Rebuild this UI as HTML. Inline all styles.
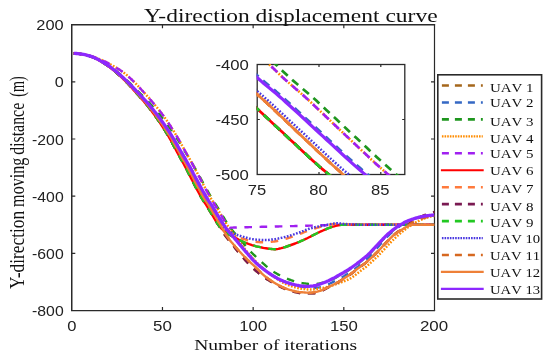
<!DOCTYPE html><html><head><meta charset="utf-8"><title>Y-direction displacement curve</title><style>html,body{margin:0;padding:0;background:#fff;overflow:hidden}svg{display:block}</style></head><body><svg width="550" height="361" viewBox="0 0 550 361">
<rect width="550" height="361" fill="#fff"/>
<defs>
<clipPath id="cm"><rect x="71.8" y="24.7" width="362.70" height="285.80"/></clipPath>
<clipPath id="ci"><rect x="256.59999999999997" y="63.9" width="148.80" height="111.20"/></clipPath>
</defs>
<g stroke="#2a2a2a" fill="none"><path d="M71.75,24 V311.1" stroke-width="1.5"/><path d="M434.5,24 V311.1" stroke-width="1.2"/><path d="M71,24.7 H435.1" stroke-width="1.4"/><path d="M71,310.55 H435.1" stroke-width="1.15"/></g>
<path d="M162.47,310.5v-3.5M162.47,24.7v3.5M253.15,310.5v-3.5M253.15,24.7v3.5M343.82,310.5v-3.5M343.82,24.7v3.5M71.8,81.86h3.5M434.5,81.86h-3.5M71.8,139.02h3.5M434.5,139.02h-3.5M71.8,196.18h3.5M434.5,196.18h-3.5M71.8,253.34h3.5M434.5,253.34h-3.5" stroke="#2a2a2a" stroke-width="1.2" fill="none"/>
<g clip-path="url(#cm)" fill="none" stroke-width="2.4" stroke-linejoin="round">
<path d="M73.6,53.3L75.0,53.4L76.4,53.5L77.8,53.6L79.2,53.8L80.6,54.0L82.0,54.2L83.4,54.4L84.8,54.7L86.2,55.1L87.5,55.5L88.9,55.9L90.3,56.3L91.7,56.8L93.1,57.3L94.5,57.9L95.9,58.6L97.3,59.3L98.7,60.1L100.1,60.9L101.5,61.7L102.9,62.6L104.3,63.5L105.7,64.4L107.1,65.3L108.4,66.3L109.8,67.4L111.2,68.4L112.6,69.5L114.0,70.6L115.4,71.8L116.8,73.0L118.2,74.3L119.6,75.5L121.0,76.9L122.4,78.2L123.8,79.5L125.2,80.9L126.6,82.3L128.0,83.8L129.3,85.3L130.7,86.8L132.1,88.3L133.5,89.9L134.9,91.4L136.3,92.9L137.7,94.5L139.1,96.0L140.5,97.6L141.9,99.2L143.3,100.8L144.7,102.5L146.1,104.1L147.5,105.8L148.9,107.6L150.2,109.3L151.6,111.1L153.0,113.0L154.4,114.9L155.8,116.8L157.2,118.8L158.6,120.9L160.0,122.9L161.4,125.0L162.8,127.2L164.2,129.4L165.6,131.6L167.0,133.9L168.4,136.2L169.8,138.6L171.2,141.0L172.5,143.6L173.9,146.2L175.3,148.8L176.7,151.4L178.1,153.9L179.5,156.4L180.9,159.0L182.3,161.5L183.7,164.0L185.1,166.6L186.5,169.2L187.9,171.9L189.3,174.6L190.7,177.4L192.1,180.1L193.4,182.8L194.8,185.4L196.2,188.1L197.6,190.7L199.0,193.3L200.4,195.8L201.8,198.2L203.2,200.5L204.6,202.6L206.0,204.7L207.4,207.0L208.8,209.3L210.2,211.6L211.6,213.9L213.0,216.2L214.3,218.5L215.7,220.8L217.1,223.0L218.5,225.1L219.9,227.4L221.3,229.7L222.7,232.0L224.1,234.1L225.5,236.0L226.9,237.8L228.3,239.6L229.7,241.3L231.1,243.0L232.5,244.7L233.9,246.4L235.2,248.2L236.6,250.0L238.0,251.7L239.4,253.4L240.8,255.1L242.2,256.7L243.6,258.3L245.0,259.9L246.4,261.5L247.8,263.0L249.2,264.4L250.6,265.8L252.0,267.2L253.4,268.5L254.8,269.8L256.1,271.0L257.5,272.2L258.9,273.4L260.3,274.5L261.7,275.6L263.1,276.6L264.5,277.5L265.9,278.5L267.3,279.4L268.7,280.2L270.1,281.1L271.5,281.9L272.9,282.7L274.3,283.4L275.7,284.2L277.0,284.9L278.4,285.7L279.8,286.4L281.2,287.2L282.6,287.9L284.0,288.5L285.4,289.1L286.8,289.7L288.2,290.2L289.6,290.6L291.0,291.0L292.4,291.4L293.8,291.8L295.2,292.1L296.6,292.4L297.9,292.7L299.3,293.0L300.7,293.2L302.1,293.3L303.5,293.4L304.9,293.4L306.3,293.4L307.7,293.4L309.1,293.4L310.5,293.4L311.9,293.4L313.3,293.3L314.7,293.2L316.1,292.9L317.5,292.5L318.8,292.0L320.2,291.5L321.6,290.9L323.0,290.3L324.4,289.6L325.8,288.7L327.2,287.9L328.6,287.1L330.0,286.4L331.4,285.7L332.8,285.1L334.2,284.4L335.6,283.6L337.0,282.9L338.4,282.1L339.7,281.3L341.1,280.4L342.5,279.6L343.9,278.7L345.3,277.7L346.7,276.8L348.1,275.9L349.5,274.9L350.9,273.9L352.3,272.9L353.7,271.8L355.1,270.8L356.5,269.7L357.9,268.6L359.3,267.6L360.7,266.5L362.0,265.5L363.4,264.6L364.8,263.5L366.2,262.4L367.6,261.2L369.0,259.9L370.4,258.6L371.8,257.3L373.2,256.0L374.6,254.6L376.0,253.2L377.4,251.9L378.8,250.4L380.2,249.0L381.6,247.5L382.9,246.0L384.3,244.6L385.7,243.1L387.1,241.7L388.5,240.2L389.9,238.8L391.3,237.4L392.7,236.0L394.1,234.8L395.5,233.6L396.9,232.6L398.3,231.6L399.7,230.7L401.1,229.8L402.5,228.9L403.8,227.9L405.2,226.8L406.6,225.7L408.0,224.6L409.4,223.4L410.8,222.4L412.2,221.4L413.6,220.5L415.0,219.7L416.4,219.0L417.8,218.2L419.2,217.6L420.6,216.9L422.0,216.3L423.4,215.7L424.7,215.2L426.1,214.6L427.5,214.1L428.9,213.6L430.3,213.1L431.7,212.7L433.1,212.3L434.5,211.9" stroke="#a5671c" stroke-dasharray="7.6 7.6"/>
<path d="M73.6,53.3L75.0,53.4L76.4,53.5L77.8,53.6L79.2,53.8L80.6,53.9L82.0,54.1L83.4,54.4L84.8,54.7L86.2,55.0L87.5,55.3L88.9,55.7L90.3,56.1L91.7,56.6L93.1,57.1L94.5,57.6L95.9,58.3L97.3,59.0L98.7,59.7L100.1,60.5L101.5,61.3L102.9,62.1L104.3,62.9L105.7,63.8L107.1,64.7L108.4,65.6L109.8,66.6L111.2,67.6L112.6,68.6L114.0,69.7L115.4,70.8L116.8,71.9L118.2,73.1L119.6,74.3L121.0,75.5L122.4,76.8L123.8,78.1L125.2,79.4L126.6,80.7L128.0,82.1L129.3,83.4L130.7,84.9L132.1,86.3L133.5,87.8L134.9,89.2L136.3,90.7L137.7,92.2L139.1,93.6L140.5,95.1L141.9,96.6L143.3,98.1L144.7,99.6L146.1,101.1L147.5,102.7L148.9,104.3L150.2,105.9L151.6,107.5L153.0,109.2L154.4,110.9L155.8,112.7L157.2,114.5L158.6,116.3L160.0,118.2L161.4,120.1L162.8,122.0L164.2,124.0L165.6,126.0L167.0,128.1L168.4,130.2L169.8,132.3L171.2,134.5L172.5,136.7L173.9,138.9L175.3,141.3L176.7,143.7L178.1,146.1L179.5,148.6L180.9,151.0L182.3,153.4L183.7,155.8L185.1,158.2L186.5,160.6L187.9,163.0L189.3,165.5L190.7,167.9L192.1,170.5L193.4,173.1L194.8,175.7L196.2,178.4L197.6,181.0L199.0,183.5L200.4,186.1L201.8,188.6L203.2,191.1L204.6,193.6L206.0,196.0L207.4,198.3L208.8,200.5L210.2,202.5L211.6,204.7L213.0,206.9L214.3,209.2L215.7,211.5L217.1,213.7L218.5,216.0L219.9,218.3L221.3,220.6L222.7,222.8L224.1,224.9L225.5,226.9L226.9,228.8L228.3,230.6L229.7,232.2L231.1,233.7L232.5,235.3L233.9,236.9L235.2,238.6L236.6,240.2L238.0,241.9L239.4,243.6L240.8,245.3L242.2,246.9L243.6,248.6L245.0,250.2L246.4,251.9L247.8,253.5L249.2,255.1L250.6,256.7L252.0,258.2L253.4,259.8L254.8,261.2L256.1,262.5L257.5,263.8L258.9,265.0L260.3,266.2L261.7,267.3L263.1,268.4L264.5,269.5L265.9,270.5L267.3,271.5L268.7,272.5L270.1,273.5L271.5,274.5L272.9,275.4L274.3,276.3L275.7,277.1L277.0,277.8L278.4,278.6L279.8,279.3L281.2,279.9L282.6,280.6L284.0,281.2L285.4,281.7L286.8,282.3L288.2,282.8L289.6,283.2L291.0,283.7L292.4,284.2L293.8,284.6L295.2,285.0L296.6,285.4L297.9,285.8L299.3,286.1L300.7,286.5L302.1,286.8L303.5,287.1L304.9,287.3L306.3,287.4L307.7,287.6L309.1,287.8L310.5,287.9L311.9,288.1L313.3,288.1L314.7,288.0L316.1,287.8L317.5,287.6L318.8,287.4L320.2,287.1L321.6,286.7L323.0,286.2L324.4,285.7L325.8,285.2L327.2,284.7L328.6,284.1L330.0,283.5L331.4,282.8L332.8,282.2L334.2,281.4L335.6,280.7L337.0,280.0L338.4,279.2L339.7,278.5L341.1,277.7L342.5,277.0L343.9,276.2L345.3,275.3L346.7,274.5L348.1,273.6L349.5,272.8L350.9,271.8L352.3,270.9L353.7,269.9L355.1,268.8L356.5,267.8L357.9,266.7L359.3,265.6L360.7,264.5L362.0,263.4L363.4,262.2L364.8,261.0L366.2,259.8L367.6,258.5L369.0,257.1L370.4,255.6L371.8,254.0L373.2,252.4L374.6,250.8L376.0,249.2L377.4,247.6L378.8,246.1L380.2,244.5L381.6,243.0L382.9,241.4L384.3,239.9L385.7,238.3L387.1,236.9L388.5,235.5L389.9,234.2L391.3,232.9L392.7,231.7L394.1,230.5L395.5,229.3L396.9,228.2L398.3,227.2L399.7,226.2L401.1,225.3L402.5,224.4L403.8,223.5L405.2,222.7L406.6,222.0L408.0,221.3L409.4,220.7L410.8,220.2L412.2,219.6L413.6,219.1L415.0,218.7L416.4,218.2L417.8,217.8L419.2,217.4L420.6,217.1L422.0,216.7L423.4,216.4L424.7,216.1L426.1,215.9L427.5,215.7L428.9,215.5L430.3,215.3L431.7,215.2L433.1,215.1L434.5,215.0" stroke="#3568c4" stroke-dasharray="7.6 7.6"/>
<path d="M73.6,53.3L75.0,53.4L76.4,53.5L77.8,53.6L79.2,53.8L80.6,54.0L82.0,54.2L83.4,54.4L84.8,54.7L86.2,55.0L87.5,55.4L88.9,55.7L90.3,56.2L91.7,56.6L93.1,57.1L94.5,57.6L95.9,58.3L97.3,58.9L98.7,59.7L100.1,60.4L101.5,61.2L102.9,62.0L104.3,62.8L105.7,63.6L107.1,64.5L108.4,65.4L109.8,66.4L111.2,67.3L112.6,68.4L114.0,69.4L115.4,70.4L116.8,71.5L118.2,72.6L119.6,73.8L121.0,75.0L122.4,76.2L123.8,77.5L125.2,78.7L126.6,80.0L128.0,81.3L129.3,82.7L130.7,84.0L132.1,85.4L133.5,86.8L134.9,88.2L136.3,89.6L137.7,91.0L139.1,92.4L140.5,93.8L141.9,95.2L143.3,96.6L144.7,98.0L146.1,99.5L147.5,100.9L148.9,102.4L150.2,103.9L151.6,105.4L153.0,106.9L154.4,108.5L155.8,110.1L157.2,111.7L158.6,113.4L160.0,115.1L161.4,116.8L162.8,118.6L164.2,120.4L165.6,122.3L167.0,124.1L168.4,126.0L169.8,127.9L171.2,129.9L172.5,131.8L173.9,133.9L175.3,135.9L176.7,138.0L178.1,140.2L179.5,142.4L180.9,144.7L182.3,147.0L183.7,149.3L185.1,151.6L186.5,153.9L187.9,156.2L189.3,158.5L190.7,160.8L192.1,163.1L193.4,165.5L194.8,167.9L196.2,170.3L197.6,172.8L199.0,175.4L200.4,177.9L201.8,180.5L203.2,183.0L204.6,185.5L206.0,188.1L207.4,190.6L208.8,193.1L210.2,195.5L211.6,197.9L213.0,200.2L214.3,202.3L215.7,204.4L217.1,206.6L218.5,208.9L219.9,211.2L221.3,213.5L222.7,215.8L224.1,218.2L225.5,220.5L226.9,222.7L228.3,224.8L229.7,226.8L231.1,228.8L232.5,230.6L233.9,232.2L235.2,233.8L236.6,235.3L238.0,236.9L239.4,238.4L240.8,240.1L242.2,241.7L243.6,243.5L245.0,245.2L246.4,246.9L247.8,248.5L249.2,250.1L250.6,251.6L252.0,253.0L253.4,254.4L254.8,255.7L256.1,257.0L257.5,258.3L258.9,259.6L260.3,260.8L261.7,262.1L263.1,263.4L264.5,264.6L265.9,265.9L267.3,267.1L268.7,268.3L270.1,269.4L271.5,270.4L272.9,271.3L274.3,272.2L275.7,273.0L277.0,273.8L278.4,274.6L279.8,275.3L281.2,276.0L282.6,276.6L284.0,277.3L285.4,277.9L286.8,278.5L288.2,279.1L289.6,279.6L291.0,280.2L292.4,280.7L293.8,281.2L295.2,281.7L296.6,282.1L297.9,282.4L299.3,282.7L300.7,282.9L302.1,283.1L303.5,283.3L304.9,283.4L306.3,283.6L307.7,283.8L309.1,283.9L310.5,284.0L311.9,284.0L313.3,284.1L314.7,284.0L316.1,283.9L317.5,283.8L318.8,283.6L320.2,283.3L321.6,283.0L323.0,282.6L324.4,282.2L325.8,281.8L327.2,281.4L328.6,281.0L330.0,280.5L331.4,279.8L332.8,279.1L334.2,278.4L335.6,277.6L337.0,276.9L338.4,276.1L339.7,275.4L341.1,274.6L342.5,273.8L343.9,273.0L345.3,272.1L346.7,271.3L348.1,270.4L349.5,269.5L350.9,268.5L352.3,267.6L353.7,266.6L355.1,265.6L356.5,264.6L357.9,263.5L359.3,262.4L360.7,261.4L362.0,260.3L363.4,259.2L364.8,258.1L366.2,257.0L367.6,255.8L369.0,254.4L370.4,253.0L371.8,251.5L373.2,250.0L374.6,248.5L376.0,246.9L377.4,245.4L378.8,244.0L380.2,242.5L381.6,241.0L382.9,239.6L384.3,238.2L385.7,236.8L387.1,235.4L388.5,234.2L389.9,233.0L391.3,231.8L392.7,230.6L394.1,229.5L395.5,228.5L396.9,227.5L398.3,226.5L399.7,225.6L401.1,224.8L402.5,223.9L403.8,223.1L405.2,222.4L406.6,221.7L408.0,221.1L409.4,220.5L410.8,219.9L412.2,219.4L413.6,218.9L415.0,218.5L416.4,218.1L417.8,217.7L419.2,217.4L420.6,217.0L422.0,216.7L423.4,216.4L424.7,216.2L426.1,216.0L427.5,215.8L428.9,215.6L430.3,215.5L431.7,215.3L433.1,215.3L434.5,215.2" stroke="#1e961e" stroke-dasharray="7.6 7.6"/>
<path d="M73.6,53.3L75.0,53.4L76.4,53.5L77.8,53.6L79.2,53.8L80.6,53.9L82.0,54.1L83.4,54.4L84.8,54.6L86.2,54.9L87.5,55.3L88.9,55.6L90.3,56.0L91.7,56.4L93.1,56.8L94.5,57.3L95.9,57.8L97.3,58.3L98.7,58.8L100.1,59.4L101.5,60.0L102.9,60.6L104.3,61.3L105.7,61.9L107.1,62.6L108.4,63.3L109.8,64.1L111.2,64.8L112.6,65.6L114.0,66.4L115.4,67.2L116.8,68.1L118.2,68.9L119.6,69.8L121.0,70.7L122.4,71.7L123.8,72.7L125.2,73.8L126.6,74.9L128.0,76.1L129.3,77.4L130.7,78.7L132.1,80.0L133.5,81.3L134.9,82.7L136.3,84.2L137.7,85.7L139.1,87.2L140.5,88.7L141.9,90.2L143.3,91.7L144.7,93.2L146.1,94.8L147.5,96.3L148.9,97.9L150.2,99.5L151.6,101.1L153.0,102.7L154.4,104.4L155.8,106.1L157.2,107.8L158.6,109.5L160.0,111.3L161.4,113.1L162.8,115.0L164.2,116.9L165.6,118.9L167.0,120.9L168.4,123.0L169.8,125.0L171.2,127.2L172.5,129.3L173.9,131.5L175.3,133.8L176.7,136.1L178.1,138.4L179.5,140.8L180.9,143.3L182.3,145.9L183.7,148.4L185.1,151.0L186.5,153.5L187.9,155.9L189.3,158.4L190.7,160.9L192.1,163.4L193.4,165.9L194.8,168.5L196.2,171.1L197.6,173.7L199.0,176.4L200.4,179.1L201.8,181.8L203.2,184.4L204.6,187.0L206.0,189.6L207.4,192.2L208.8,194.7L210.2,197.2L211.6,199.5L213.0,201.7L214.3,203.8L215.7,206.1L217.1,208.4L218.5,210.8L219.9,213.1L221.3,215.4L222.7,217.8L224.1,220.1L225.5,222.4L226.9,224.5L228.3,226.6L229.7,228.5L231.1,230.4L232.5,232.3L233.9,234.3L235.2,236.2L236.6,238.2L238.0,240.1L239.4,242.0L240.8,243.8L242.2,245.6L243.6,247.4L245.0,249.2L246.4,250.9L247.8,252.7L249.2,254.3L250.6,255.9L252.0,257.5L253.4,259.0L254.8,260.4L256.1,261.9L257.5,263.3L258.9,264.6L260.3,265.9L261.7,267.2L263.1,268.4L264.5,269.6L265.9,270.8L267.3,272.0L268.7,273.1L270.1,274.2L271.5,275.2L272.9,276.2L274.3,277.2L275.7,278.1L277.0,279.0L278.4,279.9L279.8,280.8L281.2,281.6L282.6,282.4L284.0,283.2L285.4,283.9L286.8,284.5L288.2,285.1L289.6,285.6L291.0,286.1L292.4,286.5L293.8,287.0L295.2,287.3L296.6,287.7L297.9,288.0L299.3,288.2L300.7,288.5L302.1,288.7L303.5,288.9L304.9,289.1L306.3,289.3L307.7,289.4L309.1,289.5L310.5,289.5L311.9,289.5L313.3,289.4L314.7,289.3L316.1,289.1L317.5,288.9L318.8,288.7L320.2,288.5L321.6,288.3L323.0,288.0L324.4,287.7L325.8,287.4L327.2,287.0L328.6,286.6L330.0,286.1L331.4,285.6L332.8,285.2L334.2,284.7L335.6,284.2L337.0,283.8L338.4,283.3L339.7,282.9L341.1,282.4L342.5,281.9L343.9,281.4L345.3,280.8L346.7,280.3L348.1,279.6L349.5,278.9L350.9,278.1L352.3,277.2L353.7,276.2L355.1,275.2L356.5,274.0L357.9,272.9L359.3,271.9L360.7,270.8L362.0,269.8L363.4,268.8L364.8,267.8L366.2,266.7L367.6,265.5L369.0,264.3L370.4,263.0L371.8,261.8L373.2,260.5L374.6,259.1L376.0,257.8L377.4,256.5L378.8,255.1L380.2,253.6L381.6,252.2L382.9,250.7L384.3,249.3L385.7,247.8L387.1,246.2L388.5,244.7L389.9,243.2L391.3,241.7L392.7,240.3L394.1,238.9L395.5,237.6L396.9,236.3L398.3,235.1L399.7,233.9L401.1,232.7L402.5,231.6L403.8,230.5L405.2,229.4L406.6,228.3L408.0,227.3L409.4,226.3L410.8,225.4L412.2,224.5L413.6,223.7L415.0,222.9L416.4,222.1L417.8,221.4L419.2,220.7L420.6,220.0L422.0,219.4L423.4,218.7L424.7,218.2L426.1,217.7L427.5,217.3L428.9,216.9L430.3,216.6L431.7,216.3L433.1,216.1L434.5,215.9" stroke="#ff8c00" stroke-dasharray="1.7 1.5" stroke-width="2.5"/>
<path d="M73.6,53.3L75.0,53.4L76.4,53.5L77.8,53.6L79.2,53.8L80.6,53.9L82.0,54.1L83.4,54.4L84.8,54.6L86.2,54.9L87.5,55.3L88.9,55.6L90.3,56.0L91.7,56.4L93.1,56.8L94.5,57.3L95.9,57.8L97.3,58.3L98.7,58.8L100.1,59.4L101.5,60.0L102.9,60.6L104.3,61.3L105.7,61.9L107.1,62.6L108.4,63.3L109.8,64.1L111.2,64.8L112.6,65.6L114.0,66.4L115.4,67.2L116.8,68.1L118.2,68.9L119.6,69.8L121.0,70.7L122.4,71.7L123.8,72.7L125.2,73.8L126.6,74.9L128.0,76.1L129.3,77.4L130.7,78.7L132.1,80.0L133.5,81.3L134.9,82.7L136.3,84.2L137.7,85.7L139.1,87.2L140.5,88.7L141.9,90.2L143.3,91.7L144.7,93.2L146.1,94.8L147.5,96.3L148.9,97.9L150.2,99.5L151.6,101.1L153.0,102.7L154.4,104.4L155.8,106.1L157.2,107.8L158.6,109.5L160.0,111.3L161.4,113.1L162.8,115.0L164.2,116.9L165.6,118.9L167.0,120.9L168.4,123.0L169.8,125.0L171.2,127.2L172.5,129.3L173.9,131.5L175.3,133.8L176.7,136.1L178.1,138.4L179.5,140.8L180.9,143.3L182.3,145.9L183.7,148.4L185.1,151.0L186.5,153.5L187.9,155.9L189.3,158.4L190.7,160.9L192.1,163.4L193.4,165.9L194.8,168.5L196.2,171.1L197.6,173.7L199.0,176.4L200.4,179.1L201.8,181.8L203.2,184.4L204.6,187.0L206.0,189.6L207.4,192.2L208.8,194.7L210.2,197.2L211.6,199.5L213.0,201.7L214.3,203.8L215.7,206.1L217.1,208.4L218.5,210.8L219.9,213.1L221.3,215.4L222.7,217.8L224.1,220.1L225.5,222.4L226.9,224.5L228.3,226.6L229.7,227.9L231.1,227.6L232.5,227.6L233.9,227.5L235.2,227.5L236.6,227.5L238.0,227.4L239.4,227.4L240.8,227.3L242.2,227.3L243.6,227.3L245.0,227.2L246.4,227.2L247.8,227.2L249.2,227.1L250.6,227.1L252.0,227.1L253.4,227.0L254.8,227.0L256.1,227.0L257.5,226.9L258.9,226.9L260.3,226.9L261.7,226.8L263.1,226.8L264.5,226.8L265.9,226.7L267.3,226.7L268.7,226.7L270.1,226.7L271.5,226.6L272.9,226.6L274.3,226.6L275.7,226.5L277.0,226.5L278.4,226.5L279.8,226.4L281.2,226.4L282.6,226.4L284.0,226.3L285.4,226.3L286.8,226.3L288.2,226.2L289.6,226.2L291.0,226.1L292.4,226.1L293.8,226.1L295.2,226.0L296.6,226.0L297.9,226.0L299.3,225.9L300.7,225.9L302.1,225.8L303.5,225.8L304.9,225.8L306.3,225.7L307.7,225.7L309.1,225.6L310.5,225.6L311.9,225.6L313.3,225.5L314.7,225.5L316.1,225.4L317.5,225.4L318.8,225.4L320.2,225.3L321.6,225.3L323.0,225.3L324.4,225.2L325.8,225.2L327.2,225.1L328.6,225.1L330.0,225.1L331.4,225.0L332.8,225.0L334.2,224.9L335.6,224.9L337.0,224.9L338.4,224.8L339.7,224.8L341.1,224.8L342.5,224.8L343.9,224.8L345.3,224.8L346.7,224.8L348.1,224.8L349.5,224.8L350.9,224.8L352.3,224.8L353.7,224.8L355.1,224.8L356.5,224.8L357.9,224.8L359.3,224.8L360.7,224.8L362.0,224.8L363.4,224.8L364.8,224.8L366.2,224.8L367.6,224.8L369.0,224.8L370.4,224.8L371.8,224.8L373.2,224.8L374.6,224.8L376.0,224.8L377.4,224.8L378.8,224.8L380.2,224.8L381.6,224.8L382.9,224.8L384.3,224.8L385.7,224.8L387.1,224.8L388.5,224.8L389.9,224.8L391.3,224.8L392.7,224.8L394.1,224.8L395.5,224.8L396.9,224.8L398.3,224.8L399.7,224.8L401.1,224.8L402.5,224.8L403.8,224.8L405.2,224.8L406.6,224.8L408.0,224.8L409.4,224.8L410.8,224.8L412.2,224.8L413.6,224.8L415.0,224.8L416.4,224.8L417.8,224.8L419.2,224.8L420.6,224.8L422.0,224.8L423.4,224.8L424.7,224.8L426.1,224.8L427.5,224.8L428.9,224.8L430.3,224.8L431.7,224.8L433.1,224.8L434.5,224.8" stroke="#a020f0" stroke-dasharray="7.6 7.6"/>
<path d="M73.6,53.3L75.0,53.4L76.4,53.5L77.8,53.6L79.2,53.8L80.6,54.0L82.0,54.2L83.4,54.4L84.8,54.7L86.2,55.1L87.5,55.5L88.9,55.9L90.3,56.3L91.7,56.8L93.1,57.3L94.5,57.9L95.9,58.6L97.3,59.3L98.7,60.1L100.1,60.9L101.5,61.7L102.9,62.6L104.3,63.5L105.7,64.4L107.1,65.3L108.4,66.3L109.8,67.4L111.2,68.4L112.6,69.5L114.0,70.6L115.4,71.8L116.8,73.0L118.2,74.3L119.6,75.5L121.0,76.9L122.4,78.2L123.8,79.5L125.2,80.9L126.6,82.3L128.0,83.8L129.3,85.3L130.7,86.8L132.1,88.3L133.5,89.9L134.9,91.4L136.3,92.9L137.7,94.5L139.1,96.0L140.5,97.6L141.9,99.2L143.3,100.8L144.7,102.5L146.1,104.1L147.5,105.8L148.9,107.6L150.2,109.3L151.6,111.1L153.0,113.0L154.4,114.9L155.8,116.8L157.2,118.8L158.6,120.9L160.0,122.9L161.4,125.0L162.8,127.2L164.2,129.4L165.6,131.6L167.0,133.9L168.4,136.2L169.8,138.6L171.2,141.0L172.5,143.6L173.9,146.2L175.3,148.8L176.7,151.4L178.1,153.9L179.5,156.4L180.9,159.0L182.3,161.5L183.7,164.0L185.1,166.6L186.5,169.2L187.9,171.9L189.3,174.6L190.7,177.4L192.1,180.1L193.4,182.8L194.8,185.4L196.2,188.1L197.6,190.7L199.0,193.3L200.4,195.8L201.8,198.2L203.2,200.5L204.6,202.6L206.0,204.7L207.4,207.0L208.8,209.3L210.2,211.6L211.6,213.9L213.0,216.2L214.3,218.5L215.7,220.8L217.1,223.0L218.5,225.0L219.9,226.7L221.3,228.3L222.7,229.7L224.1,231.0L225.5,232.1L226.9,233.1L228.3,234.1L229.7,234.9L231.1,235.7L232.5,236.5L233.9,237.2L235.2,237.9L236.6,238.6L238.0,239.3L239.4,240.0L240.8,240.7L242.2,241.4L243.6,242.0L245.0,242.6L246.4,243.1L247.8,243.7L249.2,244.2L250.6,244.6L252.0,245.1L253.4,245.5L254.8,245.9L256.1,246.3L257.5,246.6L258.9,246.9L260.3,247.2L261.7,247.5L263.1,247.8L264.5,248.1L265.9,248.3L267.3,248.5L268.7,248.7L270.1,248.9L271.5,249.0L272.9,249.1L274.3,249.2L275.7,249.2L277.0,249.1L278.4,248.9L279.8,248.5L281.2,248.2L282.6,247.8L284.0,247.4L285.4,247.0L286.8,246.5L288.2,246.0L289.6,245.5L291.0,245.0L292.4,244.5L293.8,244.0L295.2,243.5L296.6,242.9L297.9,242.3L299.3,241.8L300.7,241.2L302.1,240.6L303.5,240.0L304.9,239.3L306.3,238.7L307.7,238.0L309.1,237.3L310.5,236.6L311.9,235.8L313.3,235.1L314.7,234.4L316.1,233.7L317.5,233.0L318.8,232.4L320.2,231.7L321.6,231.1L323.0,230.5L324.4,229.9L325.8,229.3L327.2,228.7L328.6,228.1L330.0,227.6L331.4,227.1L332.8,226.7L334.2,226.3L335.6,225.9L337.0,225.6L338.4,225.3L339.7,225.0L341.1,224.9L342.5,224.9L343.9,224.8L345.3,224.8L346.7,224.8L348.1,224.8L349.5,224.8L350.9,224.8L352.3,224.8L353.7,224.8L355.1,224.8L356.5,224.8L357.9,224.8L359.3,224.8L360.7,224.8L362.0,224.8L363.4,224.8L364.8,224.8L366.2,224.8L367.6,224.8L369.0,224.8L370.4,224.8L371.8,224.8L373.2,224.8L374.6,224.8L376.0,224.8L377.4,224.8L378.8,224.8L380.2,224.8L381.6,224.8L382.9,224.8L384.3,224.8L385.7,224.8L387.1,224.8L388.5,224.8L389.9,224.8L391.3,224.8L392.7,224.8L394.1,224.8L395.5,224.8L396.9,224.8L398.3,224.8L399.7,224.8L401.1,224.8L402.5,224.8L403.8,224.8L405.2,224.8L406.6,224.8L408.0,224.8L409.4,224.8L410.8,224.8L412.2,224.8L413.6,224.8L415.0,224.8L416.4,224.8L417.8,224.8L419.2,224.8L420.6,224.8L422.0,224.8L423.4,224.8L424.7,224.8L426.1,224.8L427.5,224.8L428.9,224.8L430.3,224.8L431.7,224.8L433.1,224.8L434.5,224.8" stroke="#ff0000"/>
<path d="M73.6,53.3L75.0,53.4L76.4,53.5L77.8,53.6L79.2,53.8L80.6,54.0L82.0,54.2L83.4,54.4L84.8,54.7L86.2,55.0L87.5,55.4L88.9,55.8L90.3,56.2L91.7,56.7L93.1,57.2L94.5,57.8L95.9,58.5L97.3,59.2L98.7,59.9L100.1,60.7L101.5,61.5L102.9,62.4L104.3,63.2L105.7,64.1L107.1,65.0L108.4,66.0L109.8,67.0L111.2,68.1L112.6,69.1L114.0,70.2L115.4,71.3L116.8,72.5L118.2,73.7L119.6,75.0L121.0,76.3L122.4,77.6L123.8,78.9L125.2,80.2L126.6,81.6L128.0,83.0L129.3,84.5L130.7,86.0L132.1,87.4L133.5,89.0L134.9,90.5L136.3,92.0L137.7,93.5L139.1,95.0L140.5,96.6L141.9,98.1L143.3,99.7L144.7,101.3L146.1,102.9L147.5,104.5L148.9,106.2L150.2,107.9L151.6,109.7L153.0,111.4L154.4,113.2L155.8,115.1L157.2,117.0L158.6,119.0L160.0,121.0L161.4,123.0L162.8,125.0L164.2,127.1L165.6,129.3L167.0,131.4L168.4,133.6L169.8,135.9L171.2,138.2L172.5,140.6L173.9,143.0L175.3,145.5L176.7,148.0L178.1,150.5L179.5,153.0L180.9,155.5L182.3,157.9L183.7,160.4L185.1,162.9L186.5,165.4L187.9,167.9L189.3,170.5L190.7,173.1L192.1,175.8L193.4,178.5L194.8,181.2L196.2,183.8L197.6,186.4L199.0,189.0L200.4,191.6L201.8,194.2L203.2,196.6L204.6,199.0L206.0,201.2L207.4,203.3L208.8,205.5L210.2,207.8L211.6,210.1L213.0,212.5L214.3,214.8L215.7,217.1L217.1,219.5L218.5,221.8L219.9,223.9L221.3,225.8L222.7,227.5L224.1,229.1L225.5,230.4L226.9,231.5L228.3,232.5L229.7,233.3L231.1,234.1L232.5,234.8L233.9,235.5L235.2,236.1L236.6,236.7L238.0,237.2L239.4,237.7L240.8,238.2L242.2,238.6L243.6,239.0L245.0,239.4L246.4,239.9L247.8,240.3L249.2,240.7L250.6,241.0L252.0,241.3L253.4,241.6L254.8,241.7L256.1,241.8L257.5,242.0L258.9,242.1L260.3,242.2L261.7,242.3L263.1,242.3L264.5,242.3L265.9,242.3L267.3,242.3L268.7,242.1L270.1,242.0L271.5,241.8L272.9,241.6L274.3,241.5L275.7,241.3L277.0,241.0L278.4,240.7L279.8,240.4L281.2,240.0L282.6,239.7L284.0,239.3L285.4,238.9L286.8,238.5L288.2,238.1L289.6,237.6L291.0,237.1L292.4,236.7L293.8,236.2L295.2,235.7L296.6,235.2L297.9,234.7L299.3,234.2L300.7,233.6L302.1,233.1L303.5,232.5L304.9,231.9L306.3,231.4L307.7,230.8L309.1,230.3L310.5,229.8L311.9,229.4L313.3,228.9L314.7,228.5L316.1,228.1L317.5,227.7L318.8,227.3L320.2,226.9L321.6,226.5L323.0,226.2L324.4,225.9L325.8,225.6L327.2,225.3L328.6,225.0L330.0,224.7L331.4,224.4L332.8,224.2L334.2,224.0L335.6,223.9L337.0,223.9L338.4,223.9L339.7,224.0L341.1,224.1L342.5,224.2L343.9,224.3L345.3,224.4L346.7,224.4L348.1,224.5L349.5,224.5L350.9,224.6L352.3,224.6L353.7,224.6L355.1,224.7L356.5,224.7L357.9,224.7L359.3,224.7L360.7,224.8L362.0,224.8L363.4,224.8L364.8,224.8L366.2,224.8L367.6,224.8L369.0,224.8L370.4,224.8L371.8,224.8L373.2,224.8L374.6,224.8L376.0,224.8L377.4,224.8L378.8,224.8L380.2,224.8L381.6,224.8L382.9,224.8L384.3,224.8L385.7,224.8L387.1,224.8L388.5,224.8L389.9,224.8L391.3,224.8L392.7,224.8L394.1,224.8L395.5,224.8L396.9,224.8L398.3,224.8L399.7,224.8L401.1,224.8L402.5,224.8L403.8,224.8L405.2,224.8L406.6,224.8L408.0,224.8L409.4,224.8L410.8,224.8L412.2,224.8L413.6,224.8L415.0,224.8L416.4,224.8L417.8,224.8L419.2,224.8L420.6,224.8L422.0,224.8L423.4,224.8L424.7,224.8L426.1,224.8L427.5,224.8L428.9,224.8L430.3,224.8L431.7,224.8L433.1,224.8L434.5,224.8" stroke="#ff7a3c" stroke-dasharray="7.6 7.6"/>
<path d="M73.6,53.3L75.0,53.4L76.4,53.5L77.8,53.6L79.2,53.8L80.6,54.0L82.0,54.2L83.4,54.4L84.8,54.7L86.2,55.1L87.5,55.5L88.9,55.9L90.3,56.3L91.7,56.8L93.1,57.3L94.5,57.9L95.9,58.6L97.3,59.3L98.7,60.1L100.1,60.9L101.5,61.7L102.9,62.6L104.3,63.5L105.7,64.4L107.1,65.3L108.4,66.3L109.8,67.4L111.2,68.4L112.6,69.5L114.0,70.6L115.4,71.8L116.8,73.0L118.2,74.3L119.6,75.5L121.0,76.9L122.4,78.2L123.8,79.5L125.2,80.9L126.6,82.3L128.0,83.8L129.3,85.3L130.7,86.8L132.1,88.3L133.5,89.9L134.9,91.4L136.3,92.9L137.7,94.5L139.1,96.0L140.5,97.6L141.9,99.2L143.3,100.8L144.7,102.5L146.1,104.1L147.5,105.8L148.9,107.6L150.2,109.3L151.6,111.1L153.0,113.0L154.4,114.9L155.8,116.8L157.2,118.8L158.6,120.9L160.0,122.9L161.4,125.0L162.8,127.2L164.2,129.4L165.6,131.6L167.0,133.9L168.4,136.2L169.8,138.6L171.2,141.0L172.5,143.6L173.9,146.2L175.3,148.8L176.7,151.4L178.1,153.9L179.5,156.4L180.9,159.0L182.3,161.5L183.7,164.0L185.1,166.6L186.5,169.2L187.9,171.9L189.3,174.6L190.7,177.4L192.1,180.1L193.4,182.8L194.8,185.4L196.2,188.1L197.6,190.7L199.0,193.3L200.4,195.8L201.8,198.2L203.2,200.5L204.6,202.6L206.0,204.7L207.4,207.0L208.8,209.3L210.2,211.6L211.6,213.9L213.0,216.2L214.3,218.5L215.7,220.8L217.1,223.0L218.5,225.1L219.9,227.4L221.3,229.7L222.7,232.0L224.1,234.1L225.5,236.0L226.9,237.8L228.3,239.6L229.7,241.3L231.1,243.0L232.5,244.7L233.9,246.4L235.2,248.2L236.6,250.0L238.0,251.7L239.4,253.4L240.8,255.1L242.2,256.7L243.6,258.3L245.0,259.9L246.4,261.5L247.8,263.0L249.2,264.4L250.6,265.8L252.0,267.2L253.4,268.5L254.8,269.8L256.1,271.0L257.5,272.2L258.9,273.4L260.3,274.5L261.7,275.6L263.1,276.6L264.5,277.5L265.9,278.5L267.3,279.4L268.7,280.2L270.1,281.1L271.5,281.9L272.9,282.7L274.3,283.4L275.7,284.2L277.0,284.9L278.4,285.7L279.8,286.4L281.2,287.2L282.6,287.9L284.0,288.5L285.4,289.1L286.8,289.7L288.2,290.2L289.6,290.6L291.0,291.0L292.4,291.4L293.8,291.8L295.2,292.1L296.6,292.4L297.9,292.7L299.3,293.0L300.7,293.2L302.1,293.3L303.5,293.4L304.9,293.4L306.3,293.4L307.7,293.4L309.1,293.4L310.5,293.4L311.9,293.4L313.3,293.3L314.7,293.2L316.1,292.9L317.5,292.5L318.8,292.0L320.2,291.5L321.6,290.9L323.0,290.3L324.4,289.6L325.8,288.7L327.2,287.9L328.6,287.1L330.0,286.4L331.4,285.7L332.8,285.1L334.2,284.4L335.6,283.6L337.0,282.9L338.4,282.1L339.7,281.3L341.1,280.4L342.5,279.6L343.9,278.7L345.3,277.7L346.7,276.8L348.1,275.9L349.5,274.9L350.9,273.9L352.3,272.9L353.7,271.8L355.1,270.8L356.5,269.7L357.9,268.6L359.3,267.6L360.7,266.5L362.0,265.5L363.4,264.6L364.8,263.5L366.2,262.4L367.6,261.2L369.0,259.9L370.4,258.6L371.8,257.3L373.2,256.0L374.6,254.6L376.0,253.2L377.4,251.9L378.8,250.4L380.2,249.0L381.6,247.5L382.9,246.0L384.3,244.6L385.7,243.1L387.1,241.7L388.5,240.2L389.9,238.8L391.3,237.4L392.7,236.0L394.1,234.8L395.5,233.6L396.9,232.6L398.3,231.6L399.7,230.7L401.1,229.8L402.5,228.9L403.8,227.9L405.2,226.8L406.6,225.7L408.0,224.6L409.4,223.4L410.8,222.4L412.2,221.4L413.6,220.5L415.0,219.7L416.4,219.0L417.8,218.2L419.2,217.6L420.6,216.9L422.0,216.3L423.4,215.7L424.7,215.2L426.1,214.6L427.5,214.1L428.9,213.6L430.3,213.1L431.7,212.7L433.1,212.3L434.5,211.9" stroke="#7a1a52" stroke-dasharray="7.6 7.6"/>
<path d="M73.6,53.3L75.0,53.4L76.4,53.5L77.8,53.6L79.2,53.8L80.6,54.0L82.0,54.2L83.4,54.4L84.8,54.7L86.2,55.1L87.5,55.5L88.9,55.9L90.3,56.3L91.7,56.8L93.1,57.3L94.5,57.9L95.9,58.6L97.3,59.3L98.7,60.1L100.1,60.9L101.5,61.7L102.9,62.6L104.3,63.5L105.7,64.4L107.1,65.3L108.4,66.3L109.8,67.4L111.2,68.4L112.6,69.5L114.0,70.6L115.4,71.8L116.8,73.0L118.2,74.3L119.6,75.5L121.0,76.9L122.4,78.2L123.8,79.5L125.2,80.9L126.6,82.3L128.0,83.8L129.3,85.3L130.7,86.8L132.1,88.3L133.5,89.9L134.9,91.4L136.3,92.9L137.7,94.5L139.1,96.0L140.5,97.6L141.9,99.2L143.3,100.8L144.7,102.5L146.1,104.1L147.5,105.8L148.9,107.6L150.2,109.3L151.6,111.1L153.0,113.0L154.4,114.9L155.8,116.8L157.2,118.8L158.6,120.9L160.0,122.9L161.4,125.0L162.8,127.2L164.2,129.4L165.6,131.6L167.0,133.9L168.4,136.2L169.8,138.6L171.2,141.0L172.5,143.6L173.9,146.2L175.3,148.8L176.7,151.4L178.1,153.9L179.5,156.4L180.9,159.0L182.3,161.5L183.7,164.0L185.1,166.6L186.5,169.2L187.9,171.9L189.3,174.6L190.7,177.4L192.1,180.1L193.4,182.8L194.8,185.4L196.2,188.1L197.6,190.7L199.0,193.3L200.4,195.8L201.8,198.2L203.2,200.5L204.6,202.6L206.0,204.7L207.4,207.0L208.8,209.3L210.2,211.6L211.6,213.9L213.0,216.2L214.3,218.5L215.7,220.8L217.1,223.0L218.5,225.0L219.9,226.7L221.3,228.3L222.7,229.7L224.1,231.0L225.5,232.1L226.9,233.1L228.3,234.1L229.7,234.9L231.1,235.7L232.5,236.5L233.9,237.2L235.2,237.9L236.6,238.6L238.0,239.3L239.4,240.0L240.8,240.7L242.2,241.4L243.6,242.0L245.0,242.6L246.4,243.1L247.8,243.7L249.2,244.2L250.6,244.6L252.0,245.1L253.4,245.5L254.8,245.9L256.1,246.3L257.5,246.6L258.9,246.9L260.3,247.2L261.7,247.5L263.1,247.8L264.5,248.1L265.9,248.3L267.3,248.5L268.7,248.7L270.1,248.9L271.5,249.0L272.9,249.1L274.3,249.2L275.7,249.2L277.0,249.1L278.4,248.9L279.8,248.5L281.2,248.2L282.6,247.8L284.0,247.4L285.4,247.0L286.8,246.5L288.2,246.0L289.6,245.5L291.0,245.0L292.4,244.5L293.8,244.0L295.2,243.5L296.6,242.9L297.9,242.3L299.3,241.8L300.7,241.2L302.1,240.6L303.5,240.0L304.9,239.3L306.3,238.7L307.7,238.0L309.1,237.3L310.5,236.6L311.9,235.8L313.3,235.1L314.7,234.4L316.1,233.7L317.5,233.0L318.8,232.4L320.2,231.7L321.6,231.1L323.0,230.5L324.4,229.9L325.8,229.3L327.2,228.7L328.6,228.1L330.0,227.6L331.4,227.1L332.8,226.7L334.2,226.3L335.6,225.9L337.0,225.6L338.4,225.3L339.7,225.0L341.1,224.9L342.5,224.9L343.9,224.8L345.3,224.8L346.7,224.8L348.1,224.8L349.5,224.8L350.9,224.8L352.3,224.8L353.7,224.8L355.1,224.8L356.5,224.8L357.9,224.8L359.3,224.8L360.7,224.8L362.0,224.8L363.4,224.8L364.8,224.8L366.2,224.8L367.6,224.8L369.0,224.8L370.4,224.8L371.8,224.8L373.2,224.8L374.6,224.8L376.0,224.8L377.4,224.8L378.8,224.8L380.2,224.8L381.6,224.8L382.9,224.8L384.3,224.8L385.7,224.8L387.1,224.8L388.5,224.8L389.9,224.8L391.3,224.8L392.7,224.8L394.1,224.8L395.5,224.8L396.9,224.8L398.3,224.8L399.7,224.8L401.1,224.8L402.5,224.8L403.8,224.8L405.2,224.8L406.6,224.8L408.0,224.8L409.4,224.8L410.8,224.8L412.2,224.8L413.6,224.8L415.0,224.8L416.4,224.8L417.8,224.8L419.2,224.8L420.6,224.8L422.0,224.8L423.4,224.8L424.7,224.8L426.1,224.8L427.5,224.8L428.9,224.8L430.3,224.8L431.7,224.8L433.1,224.8L434.5,224.8" stroke="#22c822" stroke-dasharray="7.6 7.6"/>
<path d="M73.6,53.3L75.0,53.4L76.4,53.5L77.8,53.6L79.2,53.8L80.6,54.0L82.0,54.2L83.4,54.4L84.8,54.7L86.2,55.0L87.5,55.4L88.9,55.8L90.3,56.2L91.7,56.7L93.1,57.2L94.5,57.8L95.9,58.4L97.3,59.1L98.7,59.9L100.1,60.7L101.5,61.5L102.9,62.3L104.3,63.2L105.7,64.0L107.1,65.0L108.4,65.9L109.8,66.9L111.2,68.0L112.6,69.0L114.0,70.1L115.4,71.2L116.8,72.4L118.2,73.6L119.6,74.9L121.0,76.1L122.4,77.4L123.8,78.7L125.2,80.1L126.6,81.4L128.0,82.8L129.3,84.3L130.7,85.7L132.1,87.2L133.5,88.7L134.9,90.2L136.3,91.7L137.7,93.3L139.1,94.8L140.5,96.3L141.9,97.8L143.3,99.4L144.7,101.0L146.1,102.6L147.5,104.2L148.9,105.9L150.2,107.6L151.6,109.3L153.0,111.0L154.4,112.8L155.8,114.7L157.2,116.6L158.6,118.5L160.0,120.5L161.4,122.5L162.8,124.5L164.2,126.6L165.6,128.7L167.0,130.8L168.4,133.0L169.8,135.3L171.2,137.6L172.5,139.9L173.9,142.3L175.3,144.8L176.7,147.3L178.1,149.8L179.5,152.3L180.9,154.8L182.3,157.2L183.7,159.7L185.1,162.2L186.5,164.6L187.9,167.2L189.3,169.7L190.7,172.4L192.1,175.0L193.4,177.7L194.8,180.4L196.2,183.0L197.6,185.6L199.0,188.2L200.4,190.8L201.8,193.3L203.2,195.8L204.6,198.1L206.0,200.4L207.4,202.5L208.8,204.6L210.2,206.8L211.6,209.1L213.0,211.4L214.3,213.7L215.7,215.9L217.1,218.2L218.5,220.5L219.9,222.8L221.3,224.9L222.7,226.5L224.1,228.0L225.5,229.3L226.9,230.3L228.3,231.1L229.7,231.8L231.1,232.5L232.5,233.1L233.9,233.7L235.2,234.2L236.6,234.7L238.0,235.2L239.4,235.6L240.8,236.1L242.2,236.5L243.6,236.9L245.0,237.3L246.4,237.7L247.8,238.1L249.2,238.5L250.6,238.8L252.0,239.1L253.4,239.3L254.8,239.4L256.1,239.6L257.5,239.7L258.9,239.8L260.3,239.9L261.7,240.0L263.1,240.0L264.5,240.0L265.9,240.0L267.3,240.0L268.7,239.9L270.1,239.7L271.5,239.5L272.9,239.4L274.3,239.2L275.7,239.0L277.0,238.7L278.4,238.5L279.8,238.2L281.2,237.9L282.6,237.6L284.0,237.2L285.4,236.9L286.8,236.5L288.2,236.1L289.6,235.7L291.0,235.3L292.4,234.8L293.8,234.4L295.2,233.9L296.6,233.4L297.9,232.9L299.3,232.5L300.7,232.0L302.1,231.4L303.5,230.9L304.9,230.3L306.3,229.8L307.7,229.3L309.1,228.8L310.5,228.4L311.9,228.0L313.3,227.7L314.7,227.3L316.1,227.0L317.5,226.7L318.8,226.4L320.2,226.1L321.6,225.8L323.0,225.5L324.4,225.3L325.8,225.0L327.2,224.7L328.6,224.5L330.0,224.2L331.4,223.9L332.8,223.7L334.2,223.5L335.6,223.4L337.0,223.3L338.4,223.4L339.7,223.5L341.1,223.6L342.5,223.7L343.9,223.9L345.3,224.0L346.7,224.1L348.1,224.2L349.5,224.3L350.9,224.4L352.3,224.5L353.7,224.5L355.1,224.6L356.5,224.6L357.9,224.7L359.3,224.7L360.7,224.8L362.0,224.8L363.4,224.8L364.8,224.8L366.2,224.8L367.6,224.8L369.0,224.8L370.4,224.8L371.8,224.8L373.2,224.8L374.6,224.8L376.0,224.8L377.4,224.8L378.8,224.8L380.2,224.8L381.6,224.8L382.9,224.8L384.3,224.8L385.7,224.8L387.1,224.8L388.5,224.8L389.9,224.8L391.3,224.8L392.7,224.8L394.1,224.8L395.5,224.8L396.9,224.8L398.3,224.8L399.7,224.8L401.1,224.8L402.5,224.8L403.8,224.8L405.2,224.8L406.6,224.8L408.0,224.8L409.4,224.8L410.8,224.8L412.2,224.8L413.6,224.8L415.0,224.8L416.4,224.8L417.8,224.8L419.2,224.8L420.6,224.8L422.0,224.8L423.4,224.8L424.7,224.8L426.1,224.8L427.5,224.8L428.9,224.8L430.3,224.8L431.7,224.8L433.1,224.8L434.5,224.8" stroke="#4a38e0" stroke-dasharray="1.7 1.5" stroke-width="2.5"/>
<path d="M73.6,53.3L75.0,53.4L76.4,53.5L77.8,53.6L79.2,53.8L80.6,54.0L82.0,54.2L83.4,54.4L84.8,54.7L86.2,55.0L87.5,55.4L88.9,55.8L90.3,56.2L91.7,56.7L93.1,57.2L94.5,57.8L95.9,58.5L97.3,59.2L98.7,59.9L100.1,60.7L101.5,61.5L102.9,62.4L104.3,63.2L105.7,64.1L107.1,65.0L108.4,66.0L109.8,67.0L111.2,68.1L112.6,69.1L114.0,70.2L115.4,71.3L116.8,72.5L118.2,73.7L119.6,75.0L121.0,76.3L122.4,77.6L123.8,78.9L125.2,80.2L126.6,81.6L128.0,83.0L129.3,84.5L130.7,86.0L132.1,87.4L133.5,89.0L134.9,90.5L136.3,92.0L137.7,93.5L139.1,95.0L140.5,96.6L141.9,98.1L143.3,99.7L144.7,101.3L146.1,102.9L147.5,104.5L148.9,106.2L150.2,107.9L151.6,109.7L153.0,111.4L154.4,113.2L155.8,115.1L157.2,117.0L158.6,119.0L160.0,121.0L161.4,123.0L162.8,125.0L164.2,127.1L165.6,129.3L167.0,131.4L168.4,133.6L169.8,135.9L171.2,138.2L172.5,140.6L173.9,143.0L175.3,145.5L176.7,148.0L178.1,150.5L179.5,153.0L180.9,155.5L182.3,157.9L183.7,160.4L185.1,162.9L186.5,165.4L187.9,167.9L189.3,170.5L190.7,173.1L192.1,175.8L193.4,178.5L194.8,181.2L196.2,183.8L197.6,186.4L199.0,189.0L200.4,191.6L201.8,194.2L203.2,196.6L204.6,199.0L206.0,201.2L207.4,203.3L208.8,205.5L210.2,207.8L211.6,210.1L213.0,212.5L214.3,214.8L215.7,217.1L217.1,219.5L218.5,221.8L219.9,223.9L221.3,226.2L222.7,228.9L224.1,231.5L225.5,234.0L226.9,236.1L228.3,238.1L229.7,239.9L231.1,241.7L232.5,243.3L233.9,245.0L235.2,246.6L236.6,248.1L238.0,249.7L239.4,251.3L240.8,252.8L242.2,254.3L243.6,255.7L245.0,257.2L246.4,258.6L247.8,260.0L249.2,261.3L250.6,262.6L252.0,263.9L253.4,265.1L254.8,266.4L256.1,267.8L257.5,269.1L258.9,270.5L260.3,271.9L261.7,273.3L263.1,274.6L264.5,275.8L265.9,277.0L267.3,278.0L268.7,279.1L270.1,280.0L271.5,281.0L272.9,281.9L274.3,282.7L275.7,283.6L277.0,284.3L278.4,285.1L279.8,285.8L281.2,286.5L282.6,287.2L284.0,287.8L285.4,288.4L286.8,288.9L288.2,289.4L289.6,289.8L291.0,290.2L292.4,290.7L293.8,291.0L295.2,291.4L296.6,291.7L297.9,291.9L299.3,292.1L300.7,292.2L302.1,292.3L303.5,292.4L304.9,292.5L306.3,292.6L307.7,292.6L309.1,292.7L310.5,292.7L311.9,292.6L313.3,292.4L314.7,292.2L316.1,291.9L317.5,291.6L318.8,291.2L320.2,290.8L321.6,290.3L323.0,289.6L324.4,288.9L325.8,288.3L327.2,287.6L328.6,287.0L330.0,286.3L331.4,285.6L332.8,285.0L334.2,284.3L335.6,283.6L337.0,282.8L338.4,282.0L339.7,281.2L341.1,280.4L342.5,279.5L343.9,278.6L345.3,277.6L346.7,276.7L348.1,275.7L349.5,274.8L350.9,273.7L352.3,272.7L353.7,271.7L355.1,270.6L356.5,269.5L357.9,268.4L359.3,267.4L360.7,266.4L362.0,265.4L363.4,264.5L364.8,263.5L366.2,262.3L367.6,261.2L369.0,259.9L370.4,258.6L371.8,257.3L373.2,256.0L374.6,254.6L376.0,253.2L377.4,251.9L378.8,250.4L380.2,249.0L381.6,247.5L382.9,246.0L384.3,244.6L385.7,243.1L387.1,241.7L388.5,240.2L389.9,238.7L391.3,237.3L392.7,236.0L394.1,234.7L395.5,233.7L396.9,232.7L398.3,231.8L399.7,230.9L401.1,230.1L402.5,229.3L403.8,228.4L405.2,227.5L406.6,226.5L408.0,225.5L409.4,224.5L410.8,223.5L412.2,222.6L413.6,221.8L415.0,221.1L416.4,220.5L417.8,220.0L419.2,219.5L420.6,219.0L422.0,218.6L423.4,218.2L424.7,217.8L426.1,217.4L427.5,217.1L428.9,216.8L430.3,216.6L431.7,216.3L433.1,216.1L434.5,215.9" stroke="#d66820" stroke-dasharray="7.6 7.6"/>
<path d="M73.6,53.3L75.0,53.4L76.4,53.5L77.8,53.6L79.2,53.8L80.6,54.0L82.0,54.2L83.4,54.4L84.8,54.7L86.2,55.0L87.5,55.4L88.9,55.8L90.3,56.2L91.7,56.7L93.1,57.2L94.5,57.8L95.9,58.5L97.3,59.2L98.7,59.9L100.1,60.7L101.5,61.5L102.9,62.4L104.3,63.2L105.7,64.1L107.1,65.0L108.4,66.0L109.8,67.0L111.2,68.1L112.6,69.1L114.0,70.2L115.4,71.3L116.8,72.5L118.2,73.7L119.6,75.0L121.0,76.3L122.4,77.6L123.8,78.9L125.2,80.2L126.6,81.6L128.0,83.0L129.3,84.5L130.7,86.0L132.1,87.4L133.5,89.0L134.9,90.5L136.3,92.0L137.7,93.5L139.1,95.0L140.5,96.6L141.9,98.1L143.3,99.7L144.7,101.3L146.1,102.9L147.5,104.5L148.9,106.2L150.2,107.9L151.6,109.7L153.0,111.4L154.4,113.2L155.8,115.1L157.2,117.0L158.6,119.0L160.0,121.0L161.4,123.0L162.8,125.0L164.2,127.1L165.6,129.3L167.0,131.4L168.4,133.6L169.8,135.9L171.2,138.2L172.5,140.6L173.9,143.0L175.3,145.5L176.7,148.0L178.1,150.5L179.5,153.0L180.9,155.5L182.3,157.9L183.7,160.4L185.1,162.9L186.5,165.4L187.9,167.9L189.3,170.5L190.7,173.1L192.1,175.8L193.4,178.5L194.8,181.2L196.2,183.8L197.6,186.4L199.0,189.0L200.4,191.6L201.8,194.2L203.2,196.6L204.6,199.0L206.0,201.2L207.4,203.3L208.8,205.5L210.2,207.8L211.6,210.1L213.0,212.5L214.3,214.8L215.7,217.1L217.1,219.5L218.5,221.8L219.9,223.9L221.3,226.2L222.7,228.9L224.1,231.5L225.5,234.0L226.9,236.1L228.3,238.1L229.7,239.9L231.1,241.7L232.5,243.3L233.9,245.0L235.2,246.6L236.6,248.1L238.0,249.7L239.4,251.3L240.8,252.8L242.2,254.3L243.6,255.7L245.0,257.2L246.4,258.6L247.8,260.0L249.2,261.3L250.6,262.6L252.0,263.9L253.4,265.1L254.8,266.4L256.1,267.8L257.5,269.1L258.9,270.5L260.3,271.9L261.7,273.3L263.1,274.6L264.5,275.8L265.9,277.0L267.3,278.0L268.7,279.1L270.1,280.0L271.5,281.0L272.9,281.9L274.3,282.7L275.7,283.6L277.0,284.3L278.4,285.1L279.8,285.8L281.2,286.5L282.6,287.2L284.0,287.8L285.4,288.4L286.8,288.9L288.2,289.4L289.6,289.8L291.0,290.2L292.4,290.7L293.8,291.0L295.2,291.4L296.6,291.7L297.9,291.9L299.3,292.1L300.7,292.2L302.1,292.3L303.5,292.4L304.9,292.5L306.3,292.6L307.7,292.6L309.1,292.7L310.5,292.7L311.9,292.6L313.3,292.4L314.7,292.2L316.1,291.9L317.5,291.6L318.8,291.2L320.2,290.8L321.6,290.3L323.0,289.6L324.4,288.9L325.8,288.3L327.2,287.6L328.6,287.0L330.0,286.3L331.4,285.6L332.8,285.0L334.2,284.3L335.6,283.6L337.0,282.8L338.4,282.0L339.7,281.2L341.1,280.4L342.5,279.5L343.9,278.6L345.3,277.6L346.7,276.7L348.1,275.7L349.5,274.8L350.9,273.7L352.3,272.7L353.7,271.7L355.1,270.6L356.5,269.5L357.9,268.4L359.3,267.4L360.7,266.4L362.0,265.4L363.4,264.5L364.8,263.5L366.2,262.3L367.6,261.2L369.0,259.9L370.4,258.6L371.8,257.3L373.2,256.0L374.6,254.6L376.0,253.2L377.4,251.9L378.8,250.4L380.2,249.0L381.6,247.5L382.9,246.0L384.3,244.6L385.7,243.1L387.1,241.7L388.5,240.2L389.9,238.7L391.3,237.3L392.7,236.0L394.1,234.7L395.5,233.7L396.9,232.7L398.3,231.7L399.7,230.8L401.1,230.0L402.5,229.2L403.8,228.4L405.2,227.6L406.6,226.8L408.0,226.1L409.4,225.5L410.8,225.0L412.2,224.8L413.6,224.8L415.0,224.8L416.4,224.8L417.8,224.8L419.2,224.8L420.6,224.8L422.0,224.8L423.4,224.8L424.7,224.8L426.1,224.8L427.5,224.8L428.9,224.8L430.3,224.8L431.7,224.8L433.1,224.8L434.5,224.8" stroke="#ee8038"/>
<path d="M73.6,53.3L75.0,53.4L76.4,53.5L77.8,53.6L79.2,53.8L80.6,54.0L82.0,54.2L83.4,54.4L84.8,54.7L86.2,55.0L87.5,55.4L88.9,55.8L90.3,56.2L91.7,56.6L93.1,57.1L94.5,57.7L95.9,58.4L97.3,59.1L98.7,59.8L100.1,60.6L101.5,61.4L102.9,62.2L104.3,63.0L105.7,63.9L107.1,64.8L108.4,65.7L109.8,66.7L111.2,67.7L112.6,68.8L114.0,69.8L115.4,70.9L116.8,72.1L118.2,73.2L119.6,74.5L121.0,75.7L122.4,77.0L123.8,78.3L125.2,79.6L126.6,80.9L128.0,82.3L129.3,83.7L130.7,85.1L132.1,86.5L133.5,88.0L134.9,89.5L136.3,91.0L137.7,92.4L139.1,93.9L140.5,95.4L141.9,96.9L143.3,98.4L144.7,99.9L146.1,101.4L147.5,103.0L148.9,104.6L150.2,106.2L151.6,107.9L153.0,109.5L154.4,111.3L155.8,113.0L157.2,114.8L158.6,116.7L160.0,118.5L161.4,120.5L162.8,122.4L164.2,124.4L165.6,126.5L167.0,128.5L168.4,130.6L169.8,132.7L171.2,134.9L172.5,137.1L173.9,139.4L175.3,141.8L176.7,144.2L178.1,146.7L179.5,149.1L180.9,151.5L182.3,153.9L183.7,156.3L185.1,158.7L186.5,161.1L187.9,163.6L189.3,166.0L190.7,168.5L192.1,171.0L193.4,173.7L194.8,176.3L196.2,178.9L197.6,181.5L199.0,184.1L200.4,186.6L201.8,189.2L203.2,191.7L204.6,194.2L206.0,196.6L207.4,198.9L208.8,201.1L210.2,203.1L211.6,205.2L213.0,207.5L214.3,209.8L215.7,212.0L217.1,214.3L218.5,216.6L219.9,218.9L221.3,221.2L222.7,223.3L224.1,225.4L225.5,227.4L226.9,229.3L228.3,231.1L229.7,232.8L231.1,234.3L232.5,235.9L233.9,237.5L235.2,239.1L236.6,240.8L238.0,242.5L239.4,244.2L240.8,245.8L242.2,247.5L243.6,249.1L245.0,250.8L246.4,252.4L247.8,254.0L249.2,255.7L250.6,257.2L252.0,258.8L253.4,260.3L254.8,261.7L256.1,263.0L257.5,264.3L258.9,265.5L260.3,266.7L261.7,267.8L263.1,268.9L264.5,269.9L265.9,271.0L267.3,272.0L268.7,273.0L270.1,273.9L271.5,274.9L272.9,275.8L274.3,276.6L275.7,277.4L277.0,278.2L278.4,278.9L279.8,279.6L281.2,280.2L282.6,280.8L284.0,281.4L285.4,282.0L286.8,282.5L288.2,282.9L289.6,283.4L291.0,283.8L292.4,284.2L293.8,284.5L295.2,284.9L296.6,285.2L297.9,285.4L299.3,285.7L300.7,285.9L302.1,286.1L303.5,286.2L304.9,286.3L306.3,286.3L307.7,286.3L309.1,286.3L310.5,286.2L311.9,286.1L313.3,285.9L314.7,285.6L316.1,285.3L317.5,284.9L318.8,284.5L320.2,284.0L321.6,283.5L323.0,283.0L324.4,282.5L325.8,281.9L327.2,281.3L328.6,280.7L330.0,280.0L331.4,279.3L332.8,278.6L334.2,277.9L335.6,277.1L337.0,276.3L338.4,275.5L339.7,274.8L341.1,274.0L342.5,273.2L343.9,272.4L345.3,271.5L346.7,270.7L348.1,269.8L349.5,268.9L350.9,268.0L352.3,267.0L353.7,266.0L355.1,265.0L356.5,264.0L357.9,262.9L359.3,261.9L360.7,260.8L362.0,259.7L363.4,258.6L364.8,257.5L366.2,256.4L367.6,255.1L369.0,253.8L370.4,252.4L371.8,250.9L373.2,249.4L374.6,247.9L376.0,246.3L377.4,244.9L378.8,243.4L380.2,241.9L381.6,240.5L382.9,239.0L384.3,237.6L385.7,236.2L387.1,234.8L388.5,233.6L389.9,232.4L391.3,231.2L392.7,230.1L394.1,229.0L395.5,228.0L396.9,227.0L398.3,226.1L399.7,225.2L401.1,224.4L402.5,223.6L403.8,222.8L405.2,222.1L406.6,221.4L408.0,220.8L409.4,220.2L410.8,219.7L412.2,219.2L413.6,218.8L415.0,218.3L416.4,217.9L417.8,217.6L419.2,217.2L420.6,216.9L422.0,216.6L423.4,216.3L424.7,216.0L426.1,215.8L427.5,215.6L428.9,215.5L430.3,215.3L431.7,215.2L433.1,215.1L434.5,215.0" stroke="#8c28ff" stroke-width="3.3"/>
</g>
<rect x="257.2" y="64.5" width="147.60" height="110.00" fill="#fff"/>
<rect x="257.2" y="64.5" width="147.60" height="110.00" fill="none" stroke="#2a2a2a" stroke-width="1.3"/>
<path d="M319.00,174.5v-2.6M319.00,64.5v2.6M380.80,174.5v-2.6M380.80,64.5v2.6M257.2,119.50h2.6M404.8,119.50h-2.6" stroke="#2a2a2a" stroke-width="1.2" fill="none"/>
<g clip-path="url(#ci)" fill="none" stroke-width="2.7" stroke-linejoin="round">
<path d="M232.5,86.8L235.8,89.6L239.2,92.5L242.5,95.4L245.9,98.4L249.2,101.4L252.6,104.5L255.9,107.6L259.3,110.7L262.6,113.8L266.0,117.0L269.4,120.1L272.7,123.3L276.1,126.4L279.4,129.5L282.8,132.6L286.1,135.7L289.5,138.9L292.8,142.0L296.2,145.1L299.5,148.3L302.9,151.4L306.2,154.5L309.6,157.7L312.9,160.7L316.3,163.7L319.6,166.7L323.0,169.6L326.3,172.5L329.7,175.4L333.0,178.4L336.4,181.5L339.7,184.6L343.1,187.8L346.4,191.0L349.8,194.1L353.1,197.2L356.5,200.4L359.9,203.4L363.2,206.2L366.6,209.1L369.9,211.8L373.3,214.4L376.6,217.1L380.0,219.6L383.3,222.0L386.7,224.5L390.0,226.8L393.4,229.2L396.7,231.5L400.1,233.8L403.4,236.1L406.8,238.4L410.1,240.7L413.5,243.0L416.8,245.4L420.2,247.7L423.5,250.0L426.9,252.4L430.2,254.8" stroke="#a5671c" stroke-dasharray="8 6"/>
<path d="M232.5,51.8L235.8,55.2L239.2,58.5L242.5,61.7L245.9,65.0L249.2,68.1L252.6,71.3L255.9,74.3L259.3,77.3L262.6,80.2L266.0,83.0L269.4,85.8L272.7,88.6L276.1,91.4L279.4,94.3L282.8,97.2L286.1,100.3L289.5,103.3L292.8,106.3L296.2,109.4L299.5,112.5L302.9,115.6L306.2,118.7L309.6,121.8L312.9,124.9L316.3,128.0L319.6,131.1L323.0,134.2L326.3,137.3L329.7,140.4L333.0,143.5L336.4,146.6L339.7,149.7L343.1,152.8L346.4,155.9L349.8,158.9L353.1,161.9L356.5,164.9L359.9,167.8L363.2,170.7L366.6,173.5L369.9,176.2L373.3,179.0L376.6,181.7L380.0,184.3L383.3,186.9L386.7,189.5L390.0,192.0L393.4,194.4L396.7,196.9L400.1,199.1L403.4,201.3L406.8,203.5L410.1,205.6L413.5,207.6L416.8,209.7L420.2,211.8L423.5,214.0L426.9,216.2L430.2,218.4" stroke="#3568c4" stroke-dasharray="8 6"/>
<path d="M232.5,20.7L235.8,24.2L239.2,27.6L242.5,31.0L245.9,34.4L249.2,37.8L252.6,41.3L255.9,44.7L259.3,48.1L262.6,51.5L266.0,54.8L269.4,58.2L272.7,61.5L276.1,64.7L279.4,68.0L282.8,71.2L286.1,74.3L289.5,77.4L292.8,80.4L296.2,83.3L299.5,86.1L302.9,89.0L306.2,91.8L309.6,94.7L312.9,97.6L316.3,100.6L319.6,103.7L323.0,106.8L326.3,109.9L329.7,113.0L333.0,116.2L336.4,119.3L339.7,122.5L343.1,125.6L346.4,128.7L349.8,131.9L353.1,135.0L356.5,138.1L359.9,141.2L363.2,144.4L366.6,147.5L369.9,150.7L373.3,153.8L376.6,156.9L380.0,160.0L383.3,163.0L386.7,166.0L390.0,168.9L393.4,171.8L396.7,174.7L400.1,177.4L403.4,180.2L406.8,182.9L410.1,185.5L413.5,188.2L416.8,190.7L420.2,193.2L423.5,195.6L426.9,198.0L430.2,200.2" stroke="#1e961e" stroke-dasharray="8 6"/>
<path d="M232.5,26.3L235.8,29.8L239.2,33.4L242.5,36.9L245.9,40.4L249.2,43.9L252.6,47.4L255.9,50.9L259.3,54.3L262.6,57.8L266.0,61.1L269.4,64.5L272.7,67.8L276.1,71.0L279.4,74.3L282.8,77.5L286.1,80.4L289.5,83.4L292.8,86.3L296.2,89.2L299.5,92.1L302.9,95.0L306.2,98.1L309.6,101.1L312.9,104.2L316.3,107.4L319.6,110.6L323.0,113.8L326.3,117.0L329.7,120.2L333.0,123.4L336.4,126.6L339.7,129.7L343.1,132.9L346.4,136.1L349.8,139.2L353.1,142.4L356.5,145.6L359.9,148.8L363.2,151.9L366.6,155.1L369.9,158.2L373.3,161.3L376.6,164.4L380.0,167.3L383.3,170.3L386.7,173.2L390.0,176.0L393.4,178.7L396.7,181.5L400.1,184.1L403.4,186.8L406.8,189.4L410.1,191.9L413.5,194.5L416.8,197.0L420.2,199.6L423.5,202.2L426.9,204.8L430.2,207.5" stroke="#ff8c00" stroke-dasharray="1.7 1.6" stroke-width="2.6"/>
<path d="M232.5,26.3L235.8,29.8L239.2,33.4L242.5,36.9L245.9,40.4L249.2,43.9L252.6,47.4L255.9,50.9L259.3,54.3L262.6,57.8L266.0,61.1L269.4,64.5L272.7,67.8L276.1,71.0L279.4,74.3L282.8,77.5L286.1,80.4L289.5,83.4L292.8,86.3L296.2,89.2L299.5,92.1L302.9,95.0L306.2,98.1L309.6,101.1L312.9,104.2L316.3,107.4L319.6,110.6L323.0,113.8L326.3,117.0L329.7,120.2L333.0,123.4L336.4,126.6L339.7,129.7L343.1,132.9L346.4,136.1L349.8,139.2L353.1,142.4L356.5,145.6L359.9,148.8L363.2,151.9L366.6,155.1L369.9,158.2L373.3,161.3L376.6,164.4L380.0,167.3L383.3,170.3L386.7,173.2L390.0,176.0L393.4,178.7L396.7,181.5L400.1,183.3L403.4,185.1L406.8,186.5L410.1,186.1L413.5,185.7L416.8,185.4L420.2,185.3L423.5,185.3L426.9,185.2L430.2,185.2" stroke="#a020f0" stroke-dasharray="8 6"/>
<path d="M232.5,86.8L235.8,89.6L239.2,92.5L242.5,95.4L245.9,98.4L249.2,101.4L252.6,104.5L255.9,107.6L259.3,110.7L262.6,113.8L266.0,117.0L269.4,120.1L272.7,123.3L276.1,126.4L279.4,129.5L282.8,132.6L286.1,135.7L289.5,138.9L292.8,142.0L296.2,145.1L299.5,148.3L302.9,151.4L306.2,154.5L309.6,157.7L312.9,160.7L316.3,163.7L319.6,166.7L323.0,169.6L326.3,172.3L329.7,175.0L333.0,177.4L336.4,179.8L339.7,182.1L343.1,184.2L346.4,186.4L349.8,188.5L353.1,190.4L356.5,192.3L359.9,194.1L363.2,195.9L366.6,197.6L369.9,199.3L373.3,200.8L376.6,202.4L380.0,203.8L383.3,205.2L386.7,206.6L390.0,207.8L393.4,209.1L396.7,210.3L400.1,211.5L403.4,212.6L406.8,213.8L410.1,214.9L413.5,216.0L416.8,217.1L420.2,218.1L423.5,219.1L426.9,220.2L430.2,221.1" stroke="#ff0000"/>
<path d="M232.5,72.6L235.8,75.8L239.2,78.8L242.5,81.8L245.9,84.8L249.2,87.6L252.6,90.4L255.9,93.3L259.3,96.3L262.6,99.3L266.0,102.3L269.4,105.5L272.7,108.6L276.1,111.8L279.4,114.9L282.8,118.1L286.1,121.3L289.5,124.5L292.8,127.7L296.2,130.9L299.5,134.0L302.9,137.2L306.2,140.4L309.6,143.6L312.9,146.7L316.3,149.9L319.6,153.1L323.0,156.2L326.3,159.3L329.7,162.4L333.0,165.4L336.4,168.4L339.7,171.3L343.1,173.9L346.4,176.5L349.8,179.1L353.1,181.4L356.5,183.7L359.9,185.9L363.2,188.0L366.6,190.0L369.9,192.0L373.3,193.8L376.6,195.5L380.0,197.1L383.3,198.7L386.7,200.2L390.0,201.5L393.4,202.8L396.7,204.1L400.1,205.3L403.4,206.5L406.8,207.7L410.1,208.7L413.5,209.8L416.8,210.8L420.2,211.8L423.5,212.8L426.9,213.8L430.2,214.7" stroke="#ff7a3c" stroke-dasharray="8 6"/>
<path d="M232.5,86.8L235.8,89.6L239.2,92.5L242.5,95.4L245.9,98.4L249.2,101.4L252.6,104.5L255.9,107.6L259.3,110.7L262.6,113.8L266.0,117.0L269.4,120.1L272.7,123.3L276.1,126.4L279.4,129.5L282.8,132.6L286.1,135.7L289.5,138.9L292.8,142.0L296.2,145.1L299.5,148.3L302.9,151.4L306.2,154.5L309.6,157.7L312.9,160.7L316.3,163.7L319.6,166.7L323.0,169.6L326.3,172.5L329.7,175.4L333.0,178.4L336.4,181.5L339.7,184.6L343.1,187.8L346.4,191.0L349.8,194.1L353.1,197.2L356.5,200.4L359.9,203.4L363.2,206.2L366.6,209.1L369.9,211.8L373.3,214.4L376.6,217.1L380.0,219.6L383.3,222.0L386.7,224.5L390.0,226.8L393.4,229.2L396.7,231.5L400.1,233.8L403.4,236.1L406.8,238.4L410.1,240.7L413.5,243.0L416.8,245.4L420.2,247.7L423.5,250.0L426.9,252.4L430.2,254.8" stroke="#7a1a52" stroke-dasharray="8 6"/>
<path d="M232.5,86.8L235.8,89.6L239.2,92.5L242.5,95.4L245.9,98.4L249.2,101.4L252.6,104.5L255.9,107.6L259.3,110.7L262.6,113.8L266.0,117.0L269.4,120.1L272.7,123.3L276.1,126.4L279.4,129.5L282.8,132.6L286.1,135.7L289.5,138.9L292.8,142.0L296.2,145.1L299.5,148.3L302.9,151.4L306.2,154.5L309.6,157.7L312.9,160.7L316.3,163.7L319.6,166.7L323.0,169.6L326.3,172.3L329.7,175.0L333.0,177.4L336.4,179.8L339.7,182.1L343.1,184.2L346.4,186.4L349.8,188.5L353.1,190.4L356.5,192.3L359.9,194.1L363.2,195.9L366.6,197.6L369.9,199.3L373.3,200.8L376.6,202.4L380.0,203.8L383.3,205.2L386.7,206.6L390.0,207.8L393.4,209.1L396.7,210.3L400.1,211.5L403.4,212.6L406.8,213.8L410.1,214.9L413.5,216.0L416.8,217.1L420.2,218.1L423.5,219.1L426.9,220.2L430.2,221.1" stroke="#22c822" stroke-dasharray="8 6"/>
<path d="M232.5,69.3L235.8,72.5L239.2,75.6L242.5,78.7L245.9,81.7L249.2,84.5L252.6,87.3L255.9,90.1L259.3,93.0L262.6,95.8L266.0,98.8L269.4,101.8L272.7,104.8L276.1,107.9L279.4,111.0L282.8,114.1L286.1,117.2L289.5,120.4L292.8,123.5L296.2,126.6L299.5,129.7L302.9,132.8L306.2,135.9L309.6,139.0L312.9,142.1L316.3,145.3L319.6,148.4L323.0,151.5L326.3,154.7L329.7,157.8L333.0,160.8L336.4,163.8L339.7,166.8L343.1,169.7L346.4,172.5L349.8,175.3L353.1,177.5L356.5,179.8L359.9,182.0L363.2,184.0L366.6,186.1L369.9,187.9L373.3,189.6L376.6,191.3L380.0,192.8L383.3,194.1L386.7,195.4L390.0,196.6L393.4,197.7L396.7,198.8L400.1,199.8L403.4,200.8L406.8,201.7L410.1,202.6L413.5,203.5L416.8,204.4L420.2,205.2L423.5,206.1L426.9,206.9L430.2,207.7" stroke="#4a38e0" stroke-dasharray="1.7 1.6" stroke-width="2.6"/>
<path d="M232.5,72.6L235.8,75.8L239.2,78.8L242.5,81.8L245.9,84.8L249.2,87.6L252.6,90.4L255.9,93.3L259.3,96.3L262.6,99.3L266.0,102.3L269.4,105.5L272.7,108.6L276.1,111.8L279.4,114.9L282.8,118.1L286.1,121.3L289.5,124.5L292.8,127.7L296.2,130.9L299.5,134.0L302.9,137.2L306.2,140.4L309.6,143.6L312.9,146.7L316.3,149.9L319.6,153.1L323.0,156.2L326.3,159.3L329.7,162.4L333.0,165.4L336.4,168.4L339.7,171.4L343.1,174.5L346.4,177.6L349.8,180.8L353.1,184.4L356.5,188.0L359.9,191.6L363.2,195.2L366.6,198.8L369.9,202.2L373.3,205.6L376.6,208.9L380.0,212.0L383.3,214.8L386.7,217.7L390.0,220.4L393.4,223.1L396.7,225.7L400.1,228.2L403.4,230.7L406.8,233.2L410.1,235.6L413.5,238.0L416.8,240.3L420.2,242.6L423.5,244.9L426.9,247.1L430.2,249.3" stroke="#d66820" stroke-dasharray="8 6"/>
<path d="M232.5,72.6L235.8,75.8L239.2,78.8L242.5,81.8L245.9,84.8L249.2,87.6L252.6,90.4L255.9,93.3L259.3,96.3L262.6,99.3L266.0,102.3L269.4,105.5L272.7,108.6L276.1,111.8L279.4,114.9L282.8,118.1L286.1,121.3L289.5,124.5L292.8,127.7L296.2,130.9L299.5,134.0L302.9,137.2L306.2,140.4L309.6,143.6L312.9,146.7L316.3,149.9L319.6,153.1L323.0,156.2L326.3,159.3L329.7,162.4L333.0,165.4L336.4,168.4L339.7,171.4L343.1,174.5L346.4,177.6L349.8,180.8L353.1,184.4L356.5,188.0L359.9,191.6L363.2,195.2L366.6,198.8L369.9,202.2L373.3,205.6L376.6,208.9L380.0,212.0L383.3,214.8L386.7,217.7L390.0,220.4L393.4,223.1L396.7,225.7L400.1,228.2L403.4,230.7L406.8,233.2L410.1,235.6L413.5,238.0L416.8,240.3L420.2,242.6L423.5,244.9L426.9,247.1L430.2,249.3" stroke="#ee8038"/>
<path d="M232.5,54.0L235.8,57.4L239.2,60.7L242.5,63.9L245.9,67.2L249.2,70.3L252.6,73.5L255.9,76.5L259.3,79.5L262.6,82.4L266.0,85.2L269.4,88.0L272.7,90.8L276.1,93.6L279.4,96.5L282.8,99.4L286.1,102.5L289.5,105.5L292.8,108.5L296.2,111.6L299.5,114.7L302.9,117.8L306.2,120.9L309.6,124.0L312.9,127.1L316.3,130.2L319.6,133.3L323.0,136.4L326.3,139.5L329.7,142.6L333.0,145.7L336.4,148.8L339.7,151.9L343.1,155.0L346.4,158.1L349.8,161.1L353.1,164.1L356.5,167.1L359.9,170.0L363.2,172.9L366.6,175.7L369.9,178.4L373.3,181.2L376.6,183.9L380.0,186.5L383.3,189.1L386.7,191.7L390.0,194.2L393.4,196.6L396.7,199.1L400.1,201.3L403.4,203.5L406.8,205.7L410.1,207.8L413.5,209.8L416.8,211.9L420.2,214.0L423.5,216.2L426.9,218.4L430.2,220.6" stroke="#8c28ff" stroke-width="3.2"/>
</g>
<rect x="437.8" y="74.8" width="103.80" height="224.20" fill="#fff" stroke="#2a2a2a" stroke-width="1.6"/>
<g fill="none" stroke-width="2.6">
<path d="M441.9,85.50H482.8" stroke="#a5671c" stroke-dasharray="7 6"/>
<path d="M441.9,102.45H482.8" stroke="#3568c4" stroke-dasharray="7 6"/>
<path d="M441.9,119.40H482.8" stroke="#1e961e" stroke-dasharray="7 6"/>
<path d="M441.9,136.35H482.8" stroke="#ff8c00" stroke-dasharray="1.6 1.05" stroke-width="2.3"/>
<path d="M441.9,153.30H482.8" stroke="#a020f0" stroke-dasharray="7 6"/>
<path d="M440.9,170.25H483.7" stroke="#ff0000" stroke-width="2.2"/>
<path d="M441.9,187.20H482.8" stroke="#ff7a3c" stroke-dasharray="7 6"/>
<path d="M441.9,204.15H482.8" stroke="#7a1a52" stroke-dasharray="7 6"/>
<path d="M441.9,221.10H482.8" stroke="#22c822" stroke-dasharray="7 6"/>
<path d="M441.9,238.05H482.8" stroke="#4a38e0" stroke-dasharray="1.6 1.05" stroke-width="2.3"/>
<path d="M441.9,255.00H482.8" stroke="#d66820" stroke-dasharray="7 6"/>
<path d="M440.9,271.95H483.7" stroke="#ee8038" stroke-width="2.2"/>
<path d="M440.9,288.90H483.7" stroke="#8c28ff" stroke-width="2.2"/>
</g>
<g style="font-kerning:none">
<text transform="translate(489.90,91.70) scale(1.1526,1)" font-family="'Liberation Serif', 'Times New Roman', serif" font-size="13" fill="#111">UAV 1</text>
<text transform="translate(489.90,107.30) scale(1.1526,1)" font-family="'Liberation Serif', 'Times New Roman', serif" font-size="13" fill="#111">UAV 2</text>
<text transform="translate(489.90,125.80) scale(1.1526,1)" font-family="'Liberation Serif', 'Times New Roman', serif" font-size="13" fill="#111">UAV 3</text>
<text transform="translate(489.90,142.50) scale(1.1526,1)" font-family="'Liberation Serif', 'Times New Roman', serif" font-size="13" fill="#111">UAV 4</text>
<text transform="translate(489.90,158.20) scale(1.1526,1)" font-family="'Liberation Serif', 'Times New Roman', serif" font-size="13" fill="#111">UAV 5</text>
<text transform="translate(489.90,175.00) scale(1.1526,1)" font-family="'Liberation Serif', 'Times New Roman', serif" font-size="13" fill="#111">UAV 6</text>
<text transform="translate(489.90,192.70) scale(1.1526,1)" font-family="'Liberation Serif', 'Times New Roman', serif" font-size="13" fill="#111">UAV 7</text>
<text transform="translate(489.90,210.70) scale(1.1526,1)" font-family="'Liberation Serif', 'Times New Roman', serif" font-size="13" fill="#111">UAV 8</text>
<text transform="translate(489.90,227.30) scale(1.1526,1)" font-family="'Liberation Serif', 'Times New Roman', serif" font-size="13" fill="#111">UAV 9</text>
<text transform="translate(489.90,243.40) scale(1.1314,1)" font-family="'Liberation Serif', 'Times New Roman', serif" font-size="13" fill="#111">UAV 10</text>
<text transform="translate(489.90,260.30) scale(1.1312,1)" font-family="'Liberation Serif', 'Times New Roman', serif" font-size="13" fill="#111">UAV 11</text>
<text transform="translate(489.90,276.90) scale(1.1314,1)" font-family="'Liberation Serif', 'Times New Roman', serif" font-size="13" fill="#111">UAV 12</text>
<text transform="translate(489.90,294.30) scale(1.1314,1)" font-family="'Liberation Serif', 'Times New Roman', serif" font-size="13" fill="#111">UAV 13</text>
</g>
<text transform="translate(36.30,30.30) scale(1.1484,1)" font-family="'Liberation Sans', Arial, sans-serif" font-size="14.3" fill="#222">200</text>
<text transform="translate(54.70,87.46) scale(1.1316,1)" font-family="'Liberation Sans', Arial, sans-serif" font-size="14.3" fill="#222">0</text>
<text transform="translate(32.10,144.62) scale(1.1040,1)" font-family="'Liberation Sans', Arial, sans-serif" font-size="14.3" fill="#222">-200</text>
<text transform="translate(32.10,201.78) scale(1.1040,1)" font-family="'Liberation Sans', Arial, sans-serif" font-size="14.3" fill="#222">-400</text>
<text transform="translate(32.10,258.94) scale(1.1040,1)" font-family="'Liberation Sans', Arial, sans-serif" font-size="14.3" fill="#222">-600</text>
<text transform="translate(32.10,316.10) scale(1.1040,1)" font-family="'Liberation Sans', Arial, sans-serif" font-size="14.3" fill="#222">-800</text>
<text transform="translate(67.20,331.00) scale(1.1568,1)" font-family="'Liberation Sans', Arial, sans-serif" font-size="14.3" fill="#222">0</text>
<text transform="translate(153.00,331.00) scale(1.1819,1)" font-family="'Liberation Sans', Arial, sans-serif" font-size="14.3" fill="#222">50</text>
<text transform="translate(239.20,331.00) scale(1.1735,1)" font-family="'Liberation Sans', Arial, sans-serif" font-size="14.3" fill="#222">100</text>
<text transform="translate(329.90,331.00) scale(1.1735,1)" font-family="'Liberation Sans', Arial, sans-serif" font-size="14.3" fill="#222">150</text>
<text transform="translate(419.90,331.00) scale(1.1819,1)" font-family="'Liberation Sans', Arial, sans-serif" font-size="14.3" fill="#222">200</text>
<text transform="translate(215.40,70.10) scale(1.1669,1)" font-family="'Liberation Sans', Arial, sans-serif" font-size="14.3" fill="#222">-400</text>
<text transform="translate(215.40,124.80) scale(1.1669,1)" font-family="'Liberation Sans', Arial, sans-serif" font-size="14.3" fill="#222">-450</text>
<text transform="translate(215.40,179.80) scale(1.1669,1)" font-family="'Liberation Sans', Arial, sans-serif" font-size="14.3" fill="#222">-500</text>
<text transform="translate(247.80,194.60) scale(1.1568,1)" font-family="'Liberation Sans', Arial, sans-serif" font-size="14.3" fill="#222">75</text>
<text transform="translate(309.30,194.60) scale(1.1568,1)" font-family="'Liberation Sans', Arial, sans-serif" font-size="14.3" fill="#222">80</text>
<text transform="translate(371.00,194.60) scale(1.1568,1)" font-family="'Liberation Sans', Arial, sans-serif" font-size="14.3" fill="#222">85</text>
<text transform="translate(144.00,22.00) scale(1.2175,1)" font-family="'Liberation Serif', 'Times New Roman', serif" font-size="19.3" fill="#111">Y-direction displacement curve</text>
<text transform="translate(194.20,350.40) scale(1.2623,1)" font-family="'Liberation Serif', 'Times New Roman', serif" font-size="15.5" fill="#111">Number of iterations</text>
<text transform="translate(23.80,96.70) rotate(-90) scale(0.8787,1.2800)" font-family="'Liberation Serif', 'Times New Roman', serif" font-size="16" fill="#111">(m)</text>
<text transform="translate(23.80,154.80) rotate(-90) scale(0.9920,1.2800)" font-family="'Liberation Serif', 'Times New Roman', serif" font-size="16" fill="#111">distance</text>
<text transform="translate(23.80,206.90) rotate(-90) scale(1.0084,1.2800)" font-family="'Liberation Serif', 'Times New Roman', serif" font-size="16" fill="#111">moving</text>
<text transform="translate(23.80,288.90) rotate(-90) scale(1.0851,1.2800)" font-family="'Liberation Serif', 'Times New Roman', serif" font-size="16" fill="#111">Y-direction</text>
</svg></body></html>
